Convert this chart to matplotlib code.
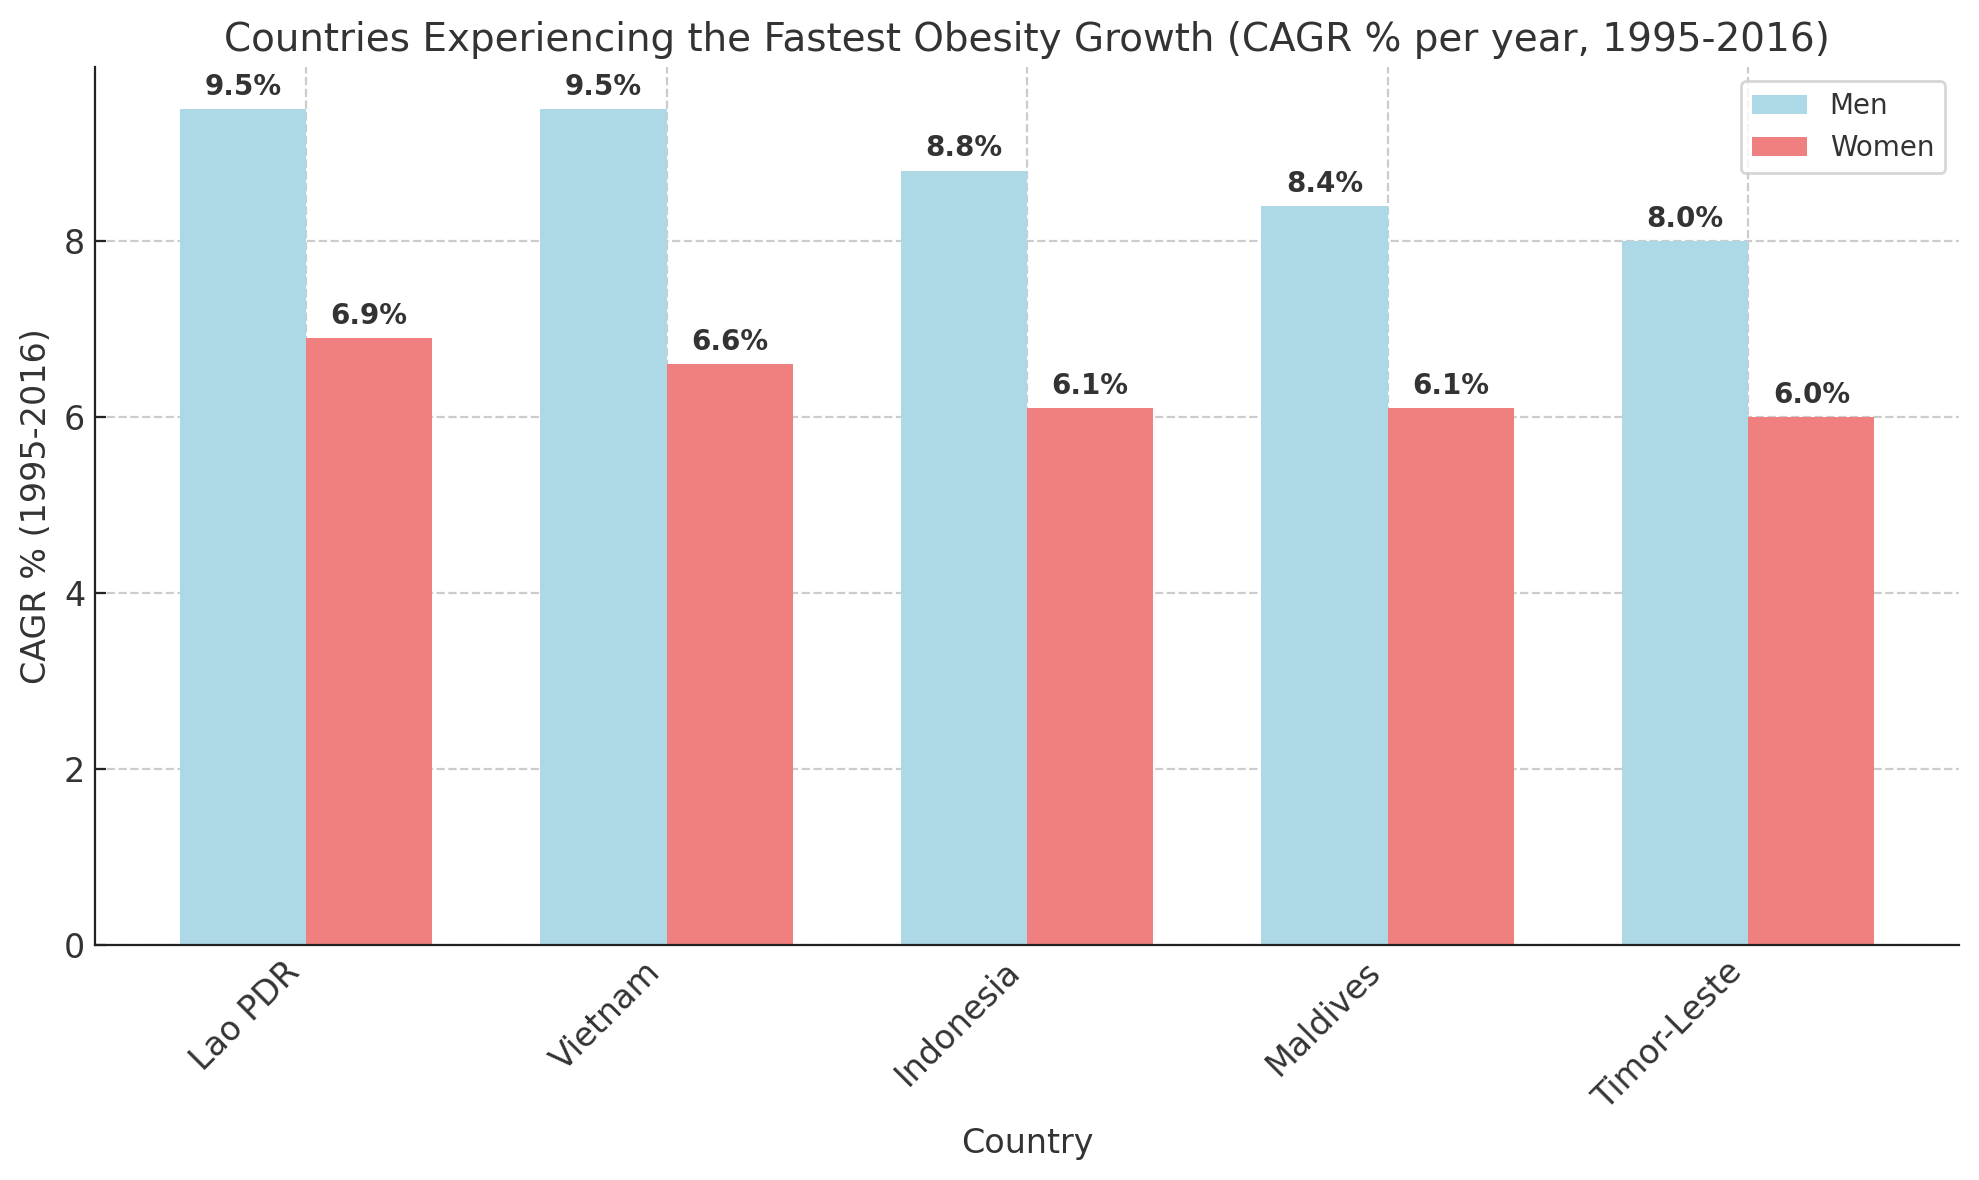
import numpy as np
import matplotlib
matplotlib.use('Agg')
import matplotlib.pyplot as plt

# data
countries = ['Lao PDR', 'Vietnam', 'Indonesia', 'Maldives', 'Timor-Leste']
men = [9.5, 9.5, 8.8, 8.4, 8.0]
women = [6.9, 6.6, 6.1, 6.1, 6.0]

txt = '#333333'
plt.rcParams['text.color'] = txt
plt.rcParams['axes.labelcolor'] = txt
plt.rcParams['xtick.color'] = '#222222'
plt.rcParams['ytick.color'] = '#222222'
plt.rcParams['xtick.labelcolor'] = txt
plt.rcParams['ytick.labelcolor'] = txt

x = np.arange(len(countries))
width = 0.35

fig, ax = plt.subplots(figsize=(9.895, 5.9), dpi=200)
b1 = ax.bar(x - width / 2, men, width, label='Men', color='lightblue', zorder=2)
b2 = ax.bar(x + width / 2, women, width, label='Women', color='lightcoral', zorder=2)

# value labels above bars
for bars in (b1, b2):
    for b in bars:
        h = b.get_height()
        ax.annotate(f'{h:.1f}%', xy=(b.get_x() + b.get_width() / 2, h),
                    xytext=(0, 3), textcoords='offset points',
                    ha='center', va='bottom', fontsize=10, fontweight='bold', color=txt)

ax.set_title('Countries Experiencing the Fastest Obesity Growth (CAGR % per year, 1995-2016)',
             fontsize=14, color=txt)
ax.set_xlabel('Country', fontsize=12)
ax.set_ylabel('CAGR % (1995-2016)', fontsize=12)
ax.set_xticks(x)
ax.set_xticklabels(countries, rotation=45, ha='right', fontsize=12)
ax.tick_params(axis='y', labelsize=12)
ax.tick_params(direction='in', length=4)
ax.grid(True, linestyle='--', color='#cccccc', linewidth=0.8, zorder=0)
ax.set_axisbelow(True)
ax.spines['top'].set_visible(False)
ax.spines['right'].set_visible(False)
for s in ('left', 'bottom'):
    ax.spines[s].set_color('#222222')
ax.legend(fontsize=10, edgecolor='#cccccc')

fig.subplots_adjust(left=0.048, right=0.99, top=0.943, bottom=0.199)
fig.savefig('out.png', dpi=200)
